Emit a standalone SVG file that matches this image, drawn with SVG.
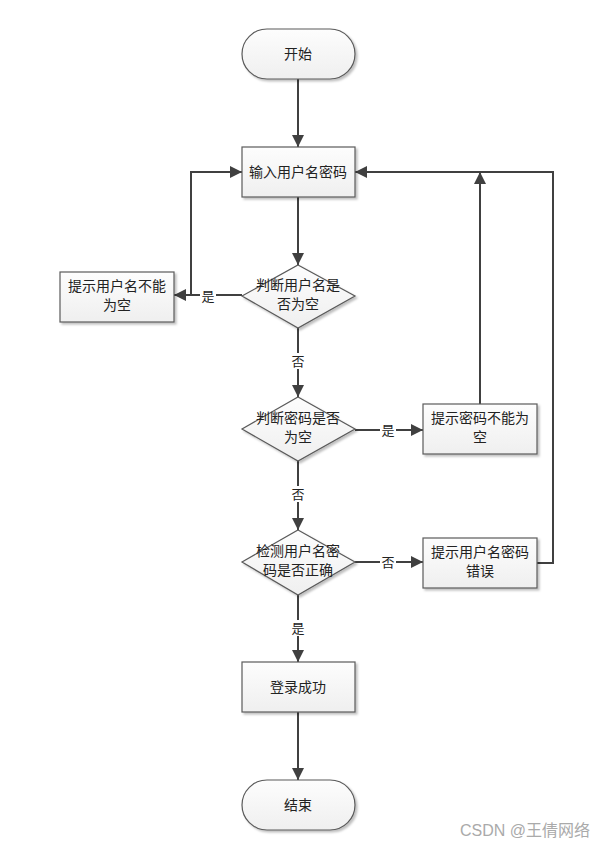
<svg xmlns="http://www.w3.org/2000/svg" width="606" height="848" viewBox="0 0 606 848">
<style>
.n{fill:url(#g);stroke:#5a5a5a;stroke-width:1.2;filter:url(#sh)}
.t{font-family:"Liberation Sans","Noto Sans CJK SC",sans-serif;font-size:14px;fill:#222;text-anchor:middle}
.c{fill:none;stroke:#404040;stroke-width:2}
.l{font-family:"Liberation Sans","Noto Sans CJK SC",sans-serif;font-size:13px;fill:#222;text-anchor:middle}
</style>
<defs>
<linearGradient id="g" x1="0" y1="0" x2="0" y2="1"><stop offset="0" stop-color="#fdfdfd"/><stop offset="1" stop-color="#efefef"/></linearGradient>
<filter id="sh" x="-10%" y="-10%" width="130%" height="130%"><feDropShadow dx="2" dy="2" stdDeviation="1.2" flood-color="#000" flood-opacity="0.25"/></filter>
<marker id="b" viewBox="0 0 12 12" refX="12" refY="6" markerWidth="12" markerHeight="12" orient="auto" markerUnits="userSpaceOnUse"><path d="M0,0 L12,6 L0,12 z" fill="#404040"/></marker>
</defs>
<rect width="606" height="848" fill="#fff"/>
<g id="connectors">
<path class="c" d="M298,79 V147" marker-end="url(#b)"/>
<path class="c" d="M298,197 V265" marker-end="url(#b)"/>
<path class="c" d="M242,295 H174" marker-end="url(#b)"/>
<path class="c" d="M191,295 V172 H242" marker-end="url(#b)"/>
<path class="c" d="M298,328 V397" marker-end="url(#b)"/>
<path class="c" d="M355,430 H423" marker-end="url(#b)"/>
<path class="c" d="M480,404 V172" marker-end="url(#b)"/>
<path class="c" d="M298,461 V530" marker-end="url(#b)"/>
<path class="c" d="M355,562 H423" marker-end="url(#b)"/>
<path class="c" d="M537,563 H553 V172 H355" marker-end="url(#b)"/>
<path class="c" d="M298,595 V662" marker-end="url(#b)"/>
<path class="c" d="M298,712 V780" marker-end="url(#b)"/>
<rect x="200" y="288" width="16" height="16" fill="#fff"/>
<text class="l" x="208" y="301">是</text>
<rect x="290" y="353" width="16" height="16" fill="#fff"/>
<text class="l" x="298" y="366">否</text>
<rect x="380" y="422" width="16" height="16" fill="#fff"/>
<text class="l" x="388" y="435">是</text>
<rect x="290" y="486" width="16" height="16" fill="#fff"/>
<text class="l" x="298" y="499">否</text>
<rect x="380" y="554" width="16" height="16" fill="#fff"/>
<text class="l" x="388" y="567">否</text>
<rect x="290" y="620" width="16" height="16" fill="#fff"/>
<text class="l" x="298" y="633">是</text>
</g>
<g id="start"><rect class="n" x="242" y="29" width="113" height="50" rx="25"/><text class="t" x="298" y="59">开始</text></g>
<g id="input"><rect class="n" x="242" y="147" width="113" height="50"/><text class="t" x="298" y="177">输入用户名密码</text></g>
<g id="d1"><polygon class="n" points="298,265 355,296 298,328 242,296"/><text class="t" x="298" y="290">判断用户名是</text><text class="t" x="298" y="309">否为空</text></g>
<g id="e1"><rect class="n" x="60" y="272" width="114" height="50"/><text class="t" x="117" y="291">提示用户名不能</text><text class="t" x="117" y="310">为空</text></g>
<g id="d2"><polygon class="n" points="298,397 355,429 298,461 242,429"/><text class="t" x="298" y="423">判断密码是否</text><text class="t" x="298" y="442">为空</text></g>
<g id="e2"><rect class="n" x="423" y="404" width="114" height="50"/><text class="t" x="480" y="423">提示密码不能为</text><text class="t" x="480" y="442">空</text></g>
<g id="d3"><polygon class="n" points="298,530 355,562 298,595 242,562"/><text class="t" x="298" y="556">检测用户名密</text><text class="t" x="298" y="575">码是否正确</text></g>
<g id="e3"><rect class="n" x="423" y="538" width="114" height="50"/><text class="t" x="480" y="557">提示用户名密码</text><text class="t" x="480" y="576">错误</text></g>
<g id="ok"><rect class="n" x="242" y="662" width="113" height="50"/><text class="t" x="298" y="692">登录成功</text></g>
<g id="end"><rect class="n" x="242" y="780" width="113" height="50" rx="25"/><text class="t" x="298" y="810">结束</text></g>
<text x="590" y="836" font-family="Liberation Sans,'Noto Sans CJK SC',sans-serif" font-size="16" fill="#aaa" text-anchor="end">CSDN @王倩网络</text>
</svg>
